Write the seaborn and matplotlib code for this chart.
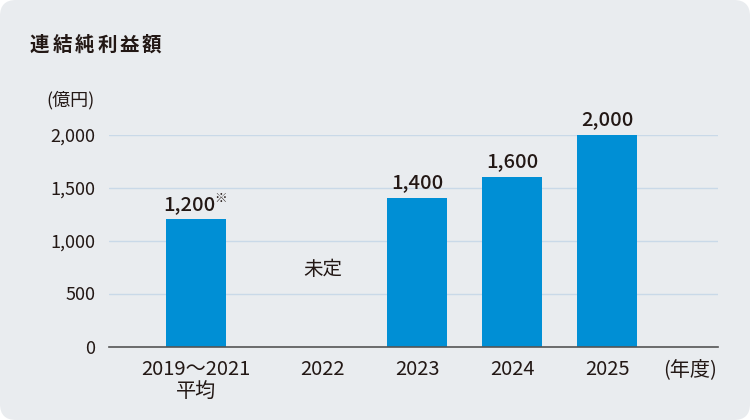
import numpy as np
import pandas as pd
import matplotlib
matplotlib.use("Agg")
import matplotlib.pyplot as plt
from matplotlib.patches import FancyBboxPatch
from matplotlib.transforms import IdentityTransform
import seaborn as sns

# data
CATEGORIES = ["2019～2021\n平均", "2022", "2023", "2024", "2025"]
PROFIT = [1200, np.nan, 1400, 1600, 2000]
VALUE_LABELS = ["1,200", "", "1,400", "1,600", "2,000"]
NOTES = ["※", "", "", "", ""]
PENDING_LABEL = "未定"
Y_TICKS = [0, 500, 1000, 1500, 2000]

TITLE = "連結純利益額"
UNIT_Y = "(億円)"
UNIT_X = "(年度)"

# layout (slot of each category on the x axis; first slot sits a bit apart)
SLOTS = [0, 1.33, 2.33, 3.33, 4.33]
UNIT_X_SLOT = 5.2
PENDING_Y = 730

BAR = "#008fd5"
BG = "#e9ecef"
GRID = "#c9d9e8"
INK = "#231815"

sns.set_theme(style="white")
plt.rcParams["font.family"] = ["Noto Sans CJK JP", "DejaVu Sans"]

df = pd.DataFrame({"slot": SLOTS, "year": CATEGORIES, "profit": PROFIT,
                   "label": VALUE_LABELS, "note": NOTES})
bars = df.dropna(subset=["profit"])

fig = plt.figure(figsize=(7.5, 4.2), dpi=100, facecolor="white")
card = FancyBboxPatch((0, 0), 750, 420, boxstyle="round,pad=0,rounding_size=16",
                      transform=IdentityTransform(), facecolor=BG, edgecolor="none", zorder=-10)
fig.add_artist(card)

ax = fig.add_axes([109 / 750, 1 - 346.5 / 420, 609 / 750, 212 / 420])
ax.set_facecolor("none")

sns.barplot(data=bars, x="slot", y="profit", native_scale=True, width=0.63,
            color=BAR, saturation=1, linewidth=0, edgecolor="none", ax=ax, zorder=3)

ax.set_xlim(-0.916, 5.495)
ax.set_ylim(0, 2000)
ax.set_yticks(Y_TICKS)
ax.set_yticklabels([f"{v:,}" for v in Y_TICKS])
ax.set_xticks(SLOTS + [UNIT_X_SLOT])
ax.set_xticklabels(CATEGORIES + [UNIT_X])
ax.set_xlabel("")
ax.set_ylabel("")

ax.yaxis.grid(True, color=GRID, lw=1)
ax.xaxis.grid(False)
ax.set_axisbelow(True)
for s in ["top", "right", "left"]:
    ax.spines[s].set_visible(False)
ax.spines["bottom"].set_color("#555555")
ax.spines["bottom"].set_linewidth(1.2)
ax.spines["bottom"].set_zorder(4)

ax.tick_params(axis="y", length=0, pad=10, labelsize=13, labelcolor=INK)
ax.tick_params(axis="x", length=0, pad=9, labelsize=14.5, labelcolor=INK)
for lbl in ax.get_xticklabels():
    lbl.set_linespacing(1.05)

for _, row in bars.iterrows():
    shift = -5 if row["note"] else 0
    ax.annotate(row["label"], (row["slot"], row["profit"]), xytext=(shift, 4),
                textcoords="offset points", ha="center", va="bottom",
                fontsize=14.5, fontweight="medium", color=INK, annotation_clip=False)
    if row["note"]:
        ax.annotate(row["note"], (row["slot"], row["profit"]), xytext=(13, 20),
                    textcoords="offset points", ha="left", va="top",
                    fontsize=9, color=INK, annotation_clip=False)

ax.text(SLOTS[1], PENDING_Y, PENDING_LABEL, ha="center", va="center",
        fontsize=14, color=INK)

for i, ch in enumerate(TITLE):
    fig.text((30 + 22.4 * i) / 750, 1 - 45 / 420, ch, fontsize=14,
             fontweight="bold", color=INK, ha="left", va="center")
fig.text(95 / 750, 1 - 100 / 420, UNIT_Y, ha="right", va="center",
         fontsize=13, color=INK)

fig.savefig("out.png", dpi=100, facecolor="white")
